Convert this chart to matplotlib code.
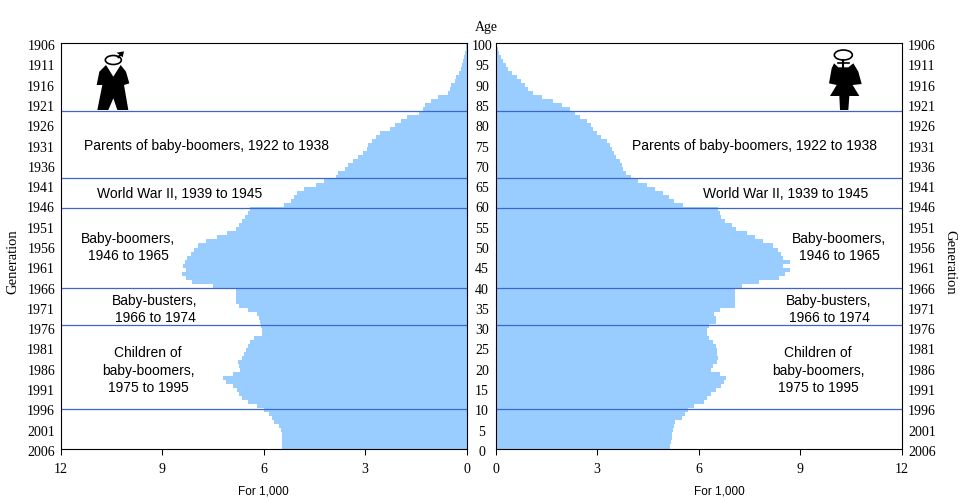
# Age pyramid with generations, men on the left and women on the right.
import matplotlib
matplotlib.use("Agg")
import matplotlib.pyplot as plt
from matplotlib.patches import Ellipse, Polygon

SANS = "Liberation Sans"
SERIF = "Liberation Serif"

# Values for 1,000, one per age from 0 to 100.
men = [5.46, 5.46, 5.45, 5.44, 5.48, 5.55, 5.68, 5.75, 5.85, 6.0,
       6.2, 6.45, 6.65, 6.72, 6.78, 6.9, 7.12, 7.2, 6.9, 6.68,
       6.72, 6.76, 6.64, 6.58, 6.53, 6.45, 6.4, 6.28, 6.05, 6.03,
       6.08, 6.1, 6.14, 6.2, 6.45, 6.72, 6.8, 6.8, 6.8, 6.8,
       7.5, 8.1, 8.3, 8.4, 8.3, 8.38, 8.32, 8.25, 8.15, 8.05,
       7.95, 7.71, 7.36, 7.07, 6.82, 6.72, 6.65, 6.56, 6.45, 6.4,
       5.38, 5.2, 5.1, 5.0, 4.8, 4.45, 4.2, 3.87, 3.8, 3.6,
       3.5, 3.35, 3.2, 3.05, 2.95, 2.9, 2.8, 2.68, 2.55, 2.27,
       2.1, 1.95, 1.75, 1.4, 1.3, 1.22, 1.04, 0.85, 0.55, 0.5,
       0.45, 0.35, 0.3, 0.22, 0.17, 0.12, 0.09, 0.06, 0.04, 0.02, 0.01]
women = [5.16, 5.17, 5.2, 5.22, 5.24, 5.26, 5.3, 5.5, 5.58, 5.67,
         5.85, 6.15, 6.25, 6.35, 6.5, 6.65, 6.75, 6.8, 6.62, 6.35,
         6.42, 6.55, 6.57, 6.55, 6.53, 6.5, 6.42, 6.3, 6.24, 6.25,
         6.3, 6.52, 6.5, 6.46, 6.62, 7.08, 7.08, 7.08, 7.08, 7.08,
         7.28, 7.77, 8.38, 8.55, 8.7, 8.5, 8.7, 8.5, 8.42, 8.33,
         8.2, 7.9, 7.67, 7.42, 7.1, 6.98, 6.78, 6.66, 6.64, 6.58,
         5.54, 5.28, 5.12, 4.95, 4.7, 4.48, 4.2, 4.0, 3.85, 3.75,
         3.72, 3.68, 3.55, 3.5, 3.45, 3.39, 3.3, 3.1, 3.0, 2.88,
         2.82, 2.7, 2.5, 2.35, 2.19, 1.95, 1.7, 1.38, 1.1, 0.95,
         0.88, 0.75, 0.62, 0.49, 0.38, 0.3, 0.22, 0.16, 0.1, 0.06, 0.02]
ages = list(range(101))
age_ticks = list(range(0, 101, 5))
census_year = 2006
x_ticks = [0, 3, 6, 9, 12]
# Lower limit of each generation band, on the age scale of the bars.
band_limits = [84, 67.2, 59.8, 39.9, 30.6, 9.8]

# label, x centre left, x centre right, y of the first line
labels = [
    ("Parents of baby-boomers, 1922 to 1938", 207, 754.5, 146),
    ("World War II, 1939 to 1945", 179.5, 786, 194),
    ("Baby-boomers,\n1946 to 1965", 128, 839, 239),
    ("Baby-busters,\n1966 to 1974", 155, 829, 301),
    ("Children of\nbaby-boomers,\n1975 to 1995", 148, 818, 353),
]


def make_panel(box, values, xlim):
    ax = fig.add_axes([box[0] / 963, (500 - box[3]) / 500,
                       (box[2] - box[0]) / 963, (box[3] - box[1]) / 500])
    ax.barh(ages, values, height=1.0, align="edge", color="#99CCFF",
            linewidth=0, antialiased=False)
    for limit in band_limits:
        ax.axhline(limit, color="#3B66CC", lw=0.9)
    ax.set_xlim(*xlim)
    ax.set_ylim(0, 101)
    ax.set_yticks([])
    ax.set_xticks(x_ticks)
    ax.tick_params(axis="x", length=4, width=0.75, pad=6.3)
    for t in ax.get_xticklabels():
        t.set_fontfamily(SERIF)
        t.set_fontsize(10)
    for s in ax.spines.values():
        s.set_linewidth(0.8)
    return ax


fig = plt.figure(figsize=(9.63, 5), dpi=100)
make_panel((60.5, 42.5, 466.5, 448.5), men, (12, 0))
make_panel((495.5, 42.5, 902, 448.5), women, (0, 12))

# Overlay in pixels for the text and the two icons.
top = fig.add_axes([0, 0, 1, 1], facecolor="none")
top.set_xlim(0, 963)
top.set_ylim(500, 0)
top.axis("off")

for a in age_ticks:
    y = 452.5 - a * 4.06
    top.text(482, y, str(a), family=SERIF, size=10, ha="center", va="center")
    top.text(55, y, str(census_year - a), family=SERIF, size=10, ha="right", va="center")
    top.text(908, y, str(census_year - a), family=SERIF, size=10, ha="left", va="center")

top.text(486, 27, "Age", family=SERIF, size=10, ha="center", va="center")
top.text(13, 262, "Generation", family=SERIF, size=10.5, rotation=90, ha="center", va="center")
top.text(950, 262, "Generation", family=SERIF, size=10.5, rotation=270, ha="center", va="center")
top.text(263, 491.5, "For 1,000", family=SANS, size=8.5, ha="center", va="center")
top.text(719, 491.5, "For 1,000", family=SANS, size=8.5, ha="center", va="center")

for text, x_left, x_right, y in labels:
    for i, line in enumerate(text.split("\n")):
        top.text(x_left, y + i * 17.5, line, family=SANS, size=10, ha="center", va="center")
        top.text(x_right, y + i * 17.5, line, family=SANS, size=10, ha="center", va="center")


def icon_xy(points, x0, y0):
    return [(x0 + px / 3, y0 + py / 3) for px, py in points]


male_body = [(318, 105), (340, 140), (362, 105), (378, 125), (388, 160), (372, 165),
             (385, 240), (352, 240), (340, 205), (325, 240), (292, 240),
             (307, 165), (290, 165), (298, 125)]
male_arrow = [(350, 68), (372, 64), (368, 82)]
female_body = [(72, 100), (85, 112), (115, 112), (130, 100), (145, 125), (155, 162),
               (128, 165), (148, 198), (118, 198), (115, 240), (90, 240),
               (88, 198), (60, 198), (80, 165), (57, 160), (65, 115)]
top.add_patch(Polygon(icon_xy(male_body, 0, 30), color="black", lw=0))
top.add_patch(Polygon(icon_xy(male_arrow, 0, 30), color="black", lw=0))
top.add_patch(Polygon(icon_xy(female_body, 810, 30), color="black", lw=0))
top.add_patch(Ellipse((340 / 3, 30 + 90 / 3), 16, 9, fill=False, ec="black", lw=1.2))
top.add_patch(Ellipse((810 + 100 / 3, 30 + 75 / 3), 18, 10, fill=False, ec="black", lw=1.2))
top.plot([355 / 3, 365 / 3], [30 + 82 / 3, 30 + 70 / 3], color="black", lw=1.3)
top.plot([810 + 100 / 3, 810 + 100 / 3], [30 + 90 / 3, 30 + 112 / 3], color="black", lw=1.5)
top.plot([810 + 85 / 3, 810 + 118 / 3], [30 + 98 / 3, 30 + 98 / 3], color="black", lw=1.2)

fig.savefig("out.png", dpi=100)
